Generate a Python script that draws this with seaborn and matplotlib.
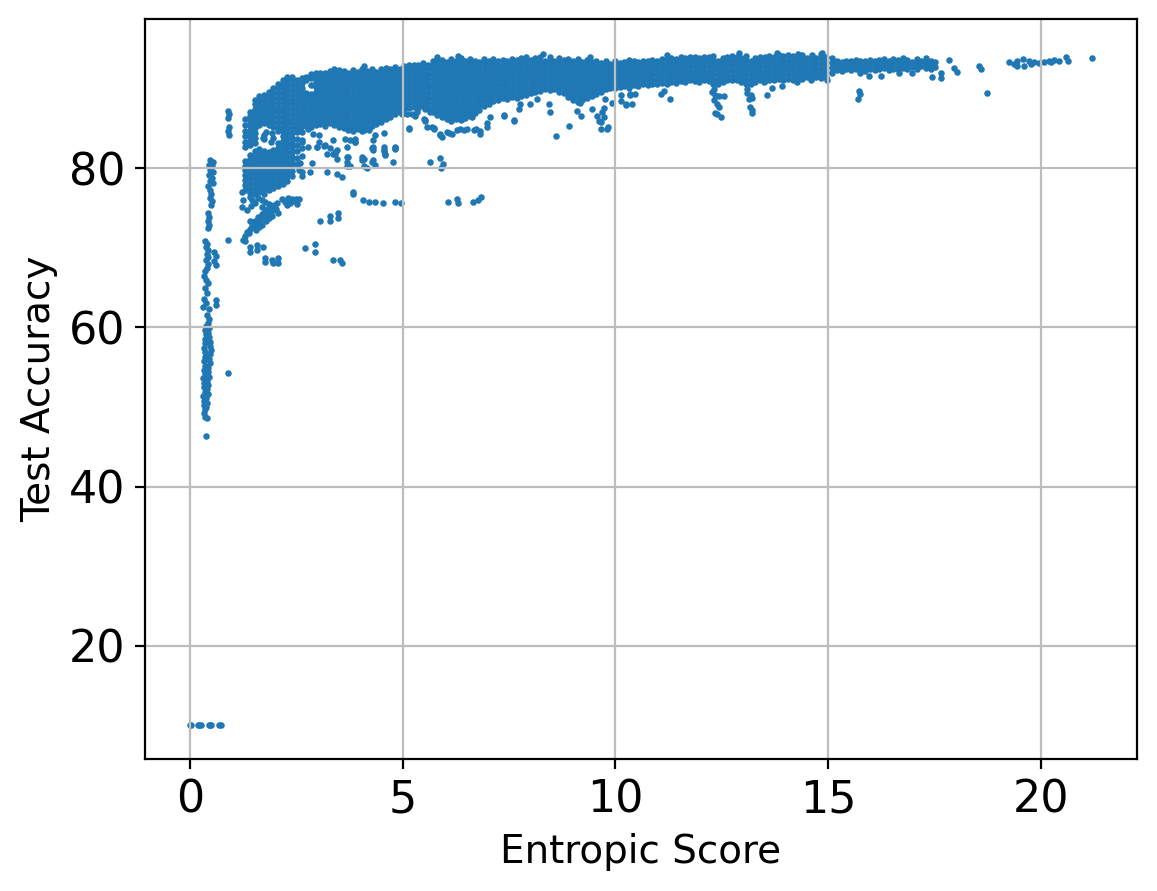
import numpy as np
import pandas as pd
import matplotlib
matplotlib.use("Agg")
import matplotlib.pyplot as plt
import seaborn as sns

# dense band of runs, read column by column: (entropic score, [test accuracies])
band_columns = [
    (1.30, [77.3, 77.9, 78.5, 79.1, 79.7, 80.3, 80.9, 82.6, 83.3, 84.0, 84.7, 85.4, 86.1]),
    (1.41, [76.9, 77.5, 78.1, 78.7, 79.3, 79.9, 80.5, 81.1, 81.7, 82.9, 83.5, 84.1, 84.7, 85.3, 85.9, 86.5, 87.1]),
    (1.52, [76.8, 77.4, 78.0, 78.6, 79.2, 79.8, 80.4, 81.0, 81.6, 82.2, 83.2, 83.8, 84.4, 85.0, 85.6, 86.2, 86.8, 87.4, 88.0, 88.6]),
    (1.63, [77.0, 77.6, 78.2, 78.8, 79.4, 80.0, 80.6, 81.2, 81.8, 82.4, 85.4, 86.0, 86.6, 87.2, 87.8, 88.4, 89.0]),
    (1.74, [76.8, 77.4, 78.0, 78.6, 79.2, 79.8, 80.4, 81.0, 81.6, 82.2, 83.6, 84.2, 85.6, 86.2, 86.8, 87.4, 88.0, 88.6, 89.2]),
    (1.85, [77.2, 77.8, 78.4, 79.0, 79.6, 80.2, 80.8, 81.4, 82.0, 85.4, 86.0, 86.6, 87.2, 87.8, 88.4, 89.0, 89.6]),
    (1.96, [77.5, 78.1, 78.7, 79.3, 79.9, 80.5, 81.1, 81.7, 82.3, 83.8, 85.2, 85.8, 86.4, 87.0, 87.6, 88.2, 88.8, 89.4, 90.0]),
    (2.07, [77.7, 78.3, 78.9, 79.5, 80.1, 80.7, 81.3, 81.9, 82.5, 83.1, 84.6, 85.2, 85.8, 86.4, 87.0, 87.6, 88.2, 88.8, 89.4, 90.0, 90.6]),
    (2.18, [78.0, 78.6, 79.2, 79.8, 80.4, 81.0, 81.6, 82.2, 82.8, 83.4, 84.0, 84.6, 85.2, 85.8, 86.4, 87.0, 87.6, 88.2, 88.8, 89.4, 90.0, 90.6, 91.1]),
    (2.29, [78.4, 79.0, 79.6, 80.2, 80.8, 81.4, 82.0, 82.6, 83.2, 83.8, 84.4, 85.0, 85.6, 86.2, 86.8, 87.4, 88.0, 88.6, 89.2, 89.8, 90.4, 91.0, 91.5]),
    (2.40, [79.0, 79.6, 80.2, 80.8, 81.4, 82.0, 82.6, 83.2, 83.8, 84.4, 85.0, 85.6, 86.2, 86.8, 87.4, 88.0, 88.6, 89.2, 89.8, 90.4, 91.0, 91.4]),
    (2.51, [80.5, 81.3, 82.1, 82.9, 83.7, 84.5, 85.1, 85.7, 86.3, 86.9, 87.5, 88.1, 88.7, 89.3, 89.9, 90.5, 91.1]),
    (2.62, [81.5, 82.5, 83.5, 84.5, 85.3, 85.9, 86.5, 87.1, 87.7, 88.3, 88.9, 89.5, 90.1, 90.7, 91.3]),
    (2.73, [85.3, 85.9, 86.5, 87.1, 87.7, 88.3, 88.9, 89.4, 91.0, 91.5]),
    (2.84, [85.1, 85.7, 86.3, 86.9, 87.5, 88.1, 88.7, 89.3, 90.4, 91.3, 91.8]),
    (2.95, [85.4, 86.0, 86.6, 87.2, 87.8, 88.4, 89.0, 89.6, 90.2, 90.8, 91.4, 91.9]),
    (3.06, [85.5, 86.1, 86.7, 87.3, 87.9, 88.5, 89.1, 89.7, 90.3, 90.9, 91.5, 92.0]),
    (3.17, [85.3, 85.9, 86.5, 87.1, 87.7, 88.3, 88.9, 89.5, 90.1, 90.7, 91.3, 91.9]),
    (3.28, [85.6, 86.2, 86.8, 87.4, 88.0, 88.6, 89.2, 89.8, 90.4, 91.0, 91.6, 92.2]),
    (3.39, [85.4, 86.0, 86.6, 87.2, 87.8, 88.4, 89.0, 89.6, 90.2, 90.8, 91.4, 92.0, 92.4]),
    (3.50, [85.2, 85.8, 86.4, 87.0, 87.6, 88.2, 88.8, 89.4, 90.0, 90.6, 91.2, 91.8, 92.3]),
    (3.61, [85.0, 85.6, 86.2, 86.8, 87.4, 88.0, 88.6, 89.2, 89.8, 90.4, 91.0, 91.6, 92.2]),
    (3.72, [84.8, 85.4, 86.0, 86.6, 87.2, 87.8, 88.4, 89.0, 89.6, 90.2, 90.8, 91.4, 92.0]),
    (3.83, [84.6, 85.2, 85.8, 86.4, 87.0, 87.6, 88.2, 88.8, 89.4, 90.0, 90.6, 91.2, 91.8, 92.3]),
    (3.94, [84.9, 85.5, 86.1, 86.7, 87.3, 87.9, 88.5, 89.1, 89.7, 90.3, 90.9, 91.5, 92.1]),
    (4.05, [84.7, 85.3, 85.9, 86.5, 87.1, 87.7, 88.3, 88.9, 89.5, 90.1, 90.7, 91.3, 91.9, 92.4]),
    (4.16, [85.0, 85.6, 86.2, 86.8, 87.4, 88.0, 88.6, 89.2, 89.8, 90.4, 91.0, 91.6, 92.2]),
    (4.27, [85.3, 85.9, 86.5, 87.1, 87.7, 88.3, 88.9, 89.5, 90.1, 90.7, 91.3, 91.9, 92.4]),
    (4.38, [85.5, 86.1, 86.7, 87.3, 87.9, 88.5, 89.1, 89.7, 90.3, 90.9, 91.5, 92.1]),
    (4.49, [85.8, 86.4, 87.0, 87.6, 88.2, 88.8, 89.4, 90.0, 90.6, 91.2, 91.8, 92.4]),
    (4.60, [86.1, 86.7, 87.3, 87.9, 88.5, 89.1, 89.7, 90.3, 90.9, 91.5, 92.1, 92.6]),
    (4.71, [86.4, 87.0, 87.6, 88.2, 88.8, 89.4, 90.0, 90.6, 91.2, 91.8, 92.4]),
    (4.82, [86.8, 87.4, 88.0, 88.6, 89.2, 89.8, 90.4, 91.0, 91.6, 92.2, 92.7]),
    (4.93, [87.1, 87.7, 88.3, 88.9, 89.5, 90.1, 90.7, 91.3, 91.9, 92.5]),
    (5.04, [87.4, 88.0, 88.6, 89.2, 89.8, 90.4, 91.0, 91.6, 92.2, 92.8]),
    (5.15, [87.6, 88.2, 88.8, 89.4, 90.0, 90.6, 91.2, 91.8, 92.4, 92.9]),
    (5.26, [87.7, 88.3, 88.9, 89.5, 90.1, 90.7, 91.3, 91.9, 92.5, 93.0]),
    (5.37, [87.5, 88.1, 88.7, 89.3, 89.9, 90.5, 91.1, 91.7, 92.3, 92.9]),
    (5.48, [87.8, 88.4, 89.0, 89.6, 90.2, 90.8, 91.4, 92.0, 92.6, 93.2]),
    (5.59, [87.6, 88.2, 88.8, 89.4, 90.0, 90.6, 91.2, 91.8, 92.4, 93.0]),
    (5.70, [87.0, 87.6, 88.2, 88.8, 89.4, 90.0, 90.6, 91.2, 91.8, 92.4, 93.0, 93.5]),
    (5.81, [86.7, 87.3, 87.9, 88.5, 89.1, 89.7, 90.3, 90.9, 91.5, 92.1, 92.7, 93.3]),
    (5.92, [86.4, 87.0, 87.6, 88.2, 88.8, 89.4, 90.0, 90.6, 91.2, 91.8, 92.4, 93.0, 93.6]),
    (6.03, [86.1, 86.7, 87.3, 87.9, 88.5, 89.1, 89.7, 90.3, 90.9, 91.5, 92.1, 92.7, 93.3]),
    (6.14, [85.9, 86.5, 87.1, 87.7, 88.3, 88.9, 89.5, 90.1, 90.7, 91.3, 91.9, 92.5, 93.1, 93.7]),
    (6.25, [86.2, 86.8, 87.4, 88.0, 88.6, 89.2, 89.8, 90.4, 91.0, 91.6, 92.2, 92.8, 93.4]),
    (6.36, [86.0, 86.6, 87.2, 87.8, 88.4, 89.0, 89.6, 90.2, 90.8, 91.4, 92.0, 92.6, 93.2, 93.8]),
    (6.47, [86.3, 86.9, 87.5, 88.1, 88.7, 89.3, 89.9, 90.5, 91.1, 91.7, 92.3, 92.9, 93.5]),
    (6.58, [86.6, 87.2, 87.8, 88.4, 89.0, 89.6, 90.2, 90.8, 91.4, 92.0, 92.6, 93.2, 93.7]),
    (6.69, [86.9, 87.5, 88.1, 88.7, 89.3, 89.9, 90.5, 91.1, 91.7, 92.3, 92.9, 93.5]),
    (6.80, [87.3, 87.9, 88.5, 89.1, 89.7, 90.3, 90.9, 91.5, 92.1, 92.7, 93.3]),
    (6.91, [87.8, 88.4, 89.0, 89.6, 90.2, 90.8, 91.4, 92.0, 92.6, 93.2, 93.7]),
    (7.02, [88.1, 88.7, 89.3, 89.9, 90.5, 91.1, 91.7, 92.3, 92.9, 93.5]),
    (7.13, [88.4, 89.0, 89.6, 90.2, 90.8, 91.4, 92.0, 92.6, 93.2, 93.7]),
    (7.24, [88.6, 89.2, 89.8, 90.4, 91.0, 91.6, 92.2, 92.8, 93.4]),
    (7.35, [88.8, 89.4, 90.0, 90.6, 91.2, 91.8, 92.4, 93.0, 93.6]),
    (7.46, [88.7, 89.3, 89.9, 90.5, 91.1, 91.7, 92.3, 92.9, 93.5]),
    (7.57, [88.9, 89.5, 90.1, 90.7, 91.3, 91.9, 92.5, 93.1, 93.7]),
    (7.68, [88.8, 89.4, 90.0, 90.6, 91.2, 91.8, 92.4, 93.0, 93.6]),
    (7.79, [89.0, 89.6, 90.2, 90.8, 91.4, 92.0, 92.6, 93.2, 93.8]),
    (7.90, [89.2, 89.8, 90.4, 91.0, 91.6, 92.2, 92.8, 93.4, 94.0]),
    (8.01, [89.4, 90.0, 90.6, 91.2, 91.8, 92.4, 93.0, 93.6]),
    (8.12, [89.6, 90.2, 90.8, 91.4, 92.0, 92.6, 93.2, 93.8]),
    (8.23, [89.7, 90.3, 90.9, 91.5, 92.1, 92.7, 93.3, 93.9]),
    (8.34, [89.9, 90.5, 91.1, 91.7, 92.3, 92.9, 93.5]),
    (8.45, [89.8, 90.4, 91.0, 91.6, 92.2, 92.8, 93.4, 94.0]),
    (8.56, [89.9, 90.5, 91.1, 91.7, 92.3, 92.9, 93.5]),
    (8.67, [89.6, 90.2, 90.8, 91.4, 92.0, 92.6, 93.2, 93.8]),
    (8.78, [89.4, 90.0, 90.6, 91.2, 91.8, 92.4, 93.0, 93.6]),
    (8.89, [88.9, 89.5, 90.1, 90.7, 91.3, 91.9, 92.5, 93.1, 93.7]),
    (9.00, [88.6, 89.2, 89.8, 90.4, 91.0, 91.6, 92.2, 92.8, 93.4]),
    (9.11, [88.3, 88.9, 89.5, 90.1, 90.7, 91.3, 91.9, 92.5, 93.1, 93.7]),
    (9.22, [88.5, 89.1, 89.7, 90.3, 90.9, 91.5, 92.1, 92.7, 93.3]),
    (9.33, [88.8, 89.4, 90.0, 90.6, 91.2, 91.8, 92.4, 93.0, 93.6]),
    (9.44, [89.1, 89.7, 90.3, 90.9, 91.5, 92.1, 92.7, 93.3]),
    (9.55, [89.3, 89.9, 90.5, 91.1, 91.7, 92.3, 92.9, 93.5]),
    (9.66, [89.6, 90.2, 90.8, 91.4, 92.0, 92.6, 93.2]),
    (9.77, [89.9, 90.5, 91.1, 91.7, 92.3, 92.9, 93.5]),
    (9.88, [90.1, 90.7, 91.3, 91.9, 92.5, 93.1]),
    (9.99, [90.0, 90.6, 91.2, 91.8, 92.4, 93.0, 93.5]),
    (10.10, [90.2, 90.8, 91.4, 92.0, 92.6, 93.2]),
    (10.21, [90.3, 90.9, 91.5, 92.1, 92.7, 93.3]),
    (10.32, [90.1, 90.7, 91.3, 91.9, 92.5, 93.1, 93.6]),
    (10.43, [90.4, 91.0, 91.6, 92.2, 92.8, 93.4]),
    (10.54, [90.3, 90.9, 91.5, 92.1, 92.7, 93.3]),
    (10.65, [90.5, 91.1, 91.7, 92.3, 92.9, 93.5]),
    (10.76, [90.4, 91.0, 91.6, 92.2, 92.8, 93.4]),
    (10.87, [90.6, 91.2, 91.8, 92.4, 93.0, 93.6]),
    (10.98, [90.5, 91.1, 91.7, 92.3, 92.9, 93.5]),
    (11.09, [90.7, 91.3, 91.9, 92.5, 93.1, 93.7]),
    (11.20, [90.6, 91.2, 91.8, 92.4, 93.0, 93.6]),
    (11.31, [90.8, 91.4, 92.0, 92.6, 93.2, 93.8]),
    (11.42, [90.7, 91.3, 91.9, 92.5, 93.1, 93.7]),
    (11.53, [90.9, 91.5, 92.1, 92.7, 93.3, 93.9]),
    (11.64, [90.8, 91.4, 92.0, 92.6, 93.2, 93.8]),
    (11.75, [91.0, 91.6, 92.2, 92.8, 93.4, 94.0]),
    (11.86, [90.9, 91.5, 92.1, 92.7, 93.3, 93.9]),
    (11.97, [90.8, 91.4, 92.0, 92.6, 93.2, 93.8]),
    (12.08, [91.0, 91.6, 92.2, 92.8, 93.4, 94.0]),
    (12.19, [90.9, 91.5, 92.1, 92.7, 93.3, 93.9]),
    (12.30, [90.6, 91.2, 91.8, 92.4, 93.0, 93.6, 94.1]),
    (12.41, [90.5, 91.1, 91.7, 92.3, 92.9, 93.5]),
    (12.52, [90.8, 91.4, 92.0, 92.6, 93.2, 93.8]),
    (12.63, [91.0, 91.6, 92.2, 92.8, 93.4, 94.0]),
    (12.74, [91.1, 91.7, 92.3, 92.9, 93.5, 94.1]),
    (12.85, [91.0, 91.6, 92.2, 92.8, 93.4, 94.0]),
    (12.96, [90.8, 91.4, 92.0, 92.6, 93.2, 93.8]),
    (13.07, [90.6, 91.2, 91.8, 92.4, 93.0, 93.6, 94.1]),
    (13.18, [90.5, 91.1, 91.7, 92.3, 92.9, 93.5]),
    (13.29, [90.8, 91.4, 92.0, 92.6, 93.2, 93.8]),
    (13.40, [91.0, 91.6, 92.2, 92.8, 93.4, 94.0]),
    (13.51, [90.9, 91.5, 92.1, 92.7, 93.3, 93.9]),
    (13.62, [91.1, 91.7, 92.3, 92.9, 93.5, 94.1]),
    (13.73, [91.0, 91.6, 92.2, 92.8, 93.4, 94.0]),
    (13.84, [91.2, 91.8, 92.4, 93.0, 93.6, 94.2]),
    (13.95, [91.1, 91.7, 92.3, 92.9, 93.5, 94.1]),
    (14.06, [91.2, 91.8, 92.4, 93.0, 93.6, 94.2]),
    (14.17, [91.1, 91.7, 92.3, 92.9, 93.5, 94.1]),
    (14.28, [91.3, 91.9, 92.5, 93.1, 93.7, 94.3]),
    (14.39, [91.2, 91.8, 92.4, 93.0, 93.6, 94.2]),
    (14.50, [91.4, 92.0, 92.6, 93.2, 93.8]),
    (14.61, [91.3, 91.9, 92.5, 93.1, 93.7, 94.2]),
    (14.72, [91.4, 92.0, 92.6, 93.2, 93.8]),
    (14.83, [91.3, 91.9, 92.5, 93.1, 93.7, 94.3]),
    (14.94, [91.5, 92.1, 92.7, 93.3, 93.9]),
    (15.10, [92.0, 92.6, 93.2, 93.8]),
    (15.21, [92.3, 92.9, 93.4]),
    (15.32, [92.2, 92.8, 93.3]),
    (15.43, [92.4, 93.0, 93.5]),
    (15.54, [92.3, 92.9, 93.4]),
    (15.65, [92.5, 93.1, 93.6]),
    (15.76, [92.4, 93.0, 93.5]),
    (15.87, [92.2, 92.8, 93.4]),
    (15.98, [92.5, 93.1, 93.6]),
    (16.09, [92.3, 92.9, 93.5]),
    (16.20, [92.4, 93.0, 93.6]),
    (16.31, [92.6, 93.2, 93.7]),
    (16.42, [92.3, 92.9, 93.5]),
    (16.53, [92.5, 93.1, 93.7]),
    (16.64, [92.4, 93.0, 93.6]),
    (16.75, [92.6, 93.2, 93.8]),
    (16.86, [92.4, 93.0, 93.6]),
    (16.97, [92.7, 93.3]),
    (17.08, [92.5, 93.1, 93.7]),
    (17.19, [92.8, 93.4]),
    (17.30, [92.6, 93.2, 93.8]),
    (17.41, [92.4, 93.0, 93.5]),
    (17.52, [92.7, 93.3]),
]

# near-vertical spike of low-entropy runs
spike_points = [
    (0.47, 81.0), (0.53, 80.8), (0.45, 80.4), (0.52, 80.2), (0.48, 79.7), (0.55, 79.5),
    (0.45, 79.1), (0.51, 78.8), (0.47, 78.4), (0.54, 78.1), (0.42, 77.8), (0.46, 77.3),
    (0.50, 76.8), (0.47, 76.3), (0.52, 75.9), (0.50, 75.3), (0.43, 74.4), (0.45, 73.9),
    (0.43, 73.4), (0.44, 72.9), (0.42, 72.5), (0.36, 70.9), (0.40, 70.5), (0.37, 70.1),
    (0.42, 69.7), (0.39, 69.2), (0.43, 68.8), (0.37, 68.4), (0.41, 68.0), (0.39, 67.5),
    (0.36, 67.1), (0.57, 69.4), (0.60, 68.9), (0.57, 68.3), (0.60, 67.8), (0.32, 66.5),
    (0.37, 66.0), (0.42, 65.6), (0.35, 64.9), (0.40, 64.3), (0.33, 63.6), (0.38, 63.1),
    (0.30, 62.6), (0.44, 62.3), (0.40, 61.6), (0.45, 61.1), (0.41, 60.6), (0.60, 63.4),
    (0.62, 62.8),
    (0.38, 60.2), (0.35, 59.6), (0.37, 59.1), (0.34, 58.5), (0.36, 58.0), (0.33, 57.4),
    (0.36, 56.9), (0.34, 56.3), (0.33, 55.8), (0.35, 55.2), (0.32, 54.7), (0.34, 54.1),
    (0.31, 53.6), (0.33, 53.0), (0.32, 52.5), (0.34, 51.9), (0.31, 51.4), (0.33, 50.8),
    (0.32, 50.3), (0.34, 49.7), (0.33, 49.2),
    (0.44, 59.9), (0.42, 59.3), (0.45, 58.8), (0.47, 58.2), (0.46, 57.7), (0.49, 57.1),
    (0.47, 56.6), (0.44, 56.0), (0.46, 55.5), (0.43, 54.9), (0.41, 54.4), (0.44, 53.8),
    (0.40, 53.3), (0.42, 52.7), (0.39, 52.2), (0.41, 51.6), (0.38, 51.1), (0.40, 50.5),
    (0.38, 50.0), (0.35, 48.7), (0.40, 48.6), (0.37, 46.4),
    (0.90, 54.3), (0.90, 71.0), (0.90, 86.3), (0.92, 86.8), (0.90, 87.2),
    (0.91, 84.2), (0.90, 84.7), (0.92, 85.1),
]

# runs stuck at chance level
floor_x = [0.00, 0.02, 0.19, 0.22, 0.25, 0.44, 0.47, 0.50, 0.69, 0.72]
floor_y = [10.0, 10.0, 10.0, 10.0, 10.0, 10.0, 10.0, 10.0, 10.0, 10.0]

# lower arm and the small groups below the main branch
arm_points = [
    (1.25, 71.0), (1.30, 71.5), (1.33, 72.0), (1.38, 71.8), (1.42, 72.4), (1.45, 72.9),
    (1.50, 72.6), (1.53, 73.3), (1.58, 73.0), (1.60, 73.8), (1.65, 73.4), (1.68, 74.2),
    (1.72, 73.8), (1.75, 74.6), (1.80, 74.1), (1.82, 74.9), (1.87, 74.4), (1.90, 75.2),
    (1.95, 74.7), (1.98, 75.4), (2.02, 74.9), (2.05, 75.6), (1.70, 72.9), (1.78, 73.3),
    (1.86, 73.7), (1.93, 74.0), (1.55, 72.2), (1.62, 72.6), (2.07, 74.3), (1.85, 75.5),
    (1.76, 75.8), (1.70, 76.0), (1.60, 76.3), (1.52, 75.6), (1.44, 75.2), (1.35, 74.7),
    (1.40, 73.4), (1.22, 75.1), (1.41, 76.4), (1.46, 76.0), (1.22, 77.0), (1.24, 76.0),
    (1.69, 75.1), (1.88, 75.0), (1.30, 70.8),
    (1.41, 70.1), (1.41, 69.5), (1.58, 70.3), (1.58, 69.7), (1.72, 70.1), (1.76, 68.7),
    (1.76, 68.2), (1.93, 68.5), (1.95, 68.1), (2.07, 68.7), (2.07, 68.1),
    (2.17, 76.1), (2.22, 75.7), (2.30, 76.2), (2.35, 75.6), (2.42, 75.9), (2.48, 76.1),
    (2.52, 75.5), (2.27, 75.3), (2.39, 76.1), (2.55, 76.1),
    (2.71, 69.9), (2.94, 70.5), (2.94, 69.5), (3.06, 73.3), (3.29, 74.0), (3.29, 73.3),
    (3.48, 74.4), (3.48, 73.7), (3.37, 68.5), (3.53, 68.4), (3.57, 68.1),
    (3.84, 77.0), (3.84, 76.8), (4.07, 76.0), (4.20, 75.8), (4.35, 75.7), (4.54, 75.6),
    (4.82, 75.8), (4.96, 75.6), (6.07, 75.7), (6.28, 76.1), (6.31, 75.6), (6.64, 75.7),
    (6.78, 76.0), (6.85, 76.4), (5.65, 80.8), (5.88, 81.3), (5.95, 80.5), (5.90, 80.0),
]

# loose points around the edges of the band
loose_points = [
    (2.63, 83.3), (2.78, 82.7), (2.98, 82.7), (3.02, 83.3), (3.18, 82.9), (3.29, 82.5),
    (3.37, 81.8), (3.45, 82.3), (3.69, 82.7), (3.72, 81.4), (3.88, 83.3), (4.04, 81.0),
    (4.08, 80.2), (4.16, 80.0), (4.31, 82.7), (4.31, 81.0), (4.35, 80.4), (4.55, 82.3),
    (4.59, 81.6), (4.82, 82.7), (3.69, 80.8), (3.76, 80.2), (3.45, 79.3), (3.57, 78.9),
    (3.22, 79.5), (2.86, 80.6), (2.59, 80.6), (2.63, 79.5), (2.55, 79.7), (2.63, 79.0),
    (2.82, 79.5), (1.72, 83.8), (1.78, 84.5), (1.90, 83.3), (1.93, 84.4),
    (3.37, 83.5), (3.41, 81.8), (3.69, 81.4), (3.76, 83.5), (3.88, 83.3), (4.20, 84.8),
    (4.31, 83.5), (4.31, 82.3), (4.55, 84.4), (4.55, 82.7), (4.59, 81.8), (4.82, 82.5),
    (5.14, 85.0), (5.33, 87.1), (5.53, 86.0), (5.65, 87.1), (5.73, 85.0), (5.92, 83.9),
    (6.08, 84.4), (6.27, 84.8), (6.43, 84.8), (6.67, 84.8), (6.82, 84.6), (6.98, 85.6),
    (7.06, 88.5), (7.37, 86.7), (7.61, 86.0), (7.76, 88.1), (7.80, 89.4), (4.00, 86.5),
    (4.08, 84.8), (4.27, 82.5), (4.04, 81.4), (3.69, 80.2),
    (2.59, 84.9), (2.78, 84.9), (2.90, 84.3), (3.02, 84.1), (2.98, 82.6), (3.14, 82.8),
    (3.22, 81.8), (3.41, 82.0), (3.45, 81.1), (3.65, 83.6), (3.73, 84.9), (3.88, 83.6),
    (4.08, 81.1), (4.27, 80.7), (4.35, 84.1), (4.55, 82.2), (4.82, 82.4), (4.78, 80.7),
    (5.14, 84.9), (4.98, 86.8), (5.22, 86.8), (5.49, 86.1), (5.69, 85.1), (5.88, 84.1),
    (5.10, 87.8), (5.10, 86.8), (5.29, 86.6), (5.53, 87.4), (5.53, 85.9), (5.57, 85.1),
    (5.73, 84.9), (5.77, 87.2), (5.88, 84.3), (6.04, 84.5), (6.16, 84.3), (6.12, 86.6),
    (6.35, 84.9), (6.39, 86.1), (6.51, 84.9), (6.63, 86.4), (6.71, 84.9), (6.82, 84.3),
    (6.98, 85.1), (7.06, 86.4), (7.37, 86.6), (7.61, 85.9), (7.73, 87.4), (8.00, 88.0),
    (8.16, 88.7), (8.43, 88.0), (8.47, 87.0), (8.70, 90.3), (8.90, 85.3), (9.10, 87.2),
    (9.17, 88.2), (9.20, 86.6), (8.60, 84.0), (9.45, 87.4), (9.57, 86.6), (9.61, 85.9),
    (9.65, 84.9), (9.80, 84.9), (9.73, 87.6), (9.92, 88.2), (10.12, 88.4), (10.24, 88.0),
    (10.39, 88.0), (10.35, 89.3), (10.47, 89.3), (11.06, 89.3), (11.14, 89.7), (11.29, 88.7),
    (9.69, 89.8), (9.76, 88.7), (9.69, 87.1), (9.74, 86.4), (9.65, 85.8), (9.82, 85.1),
    (10.12, 89.2), (10.24, 87.9), (10.34, 89.2),
    (12.27, 89.6), (12.35, 89.2), (12.43, 89.0), (12.31, 88.5), (12.39, 88.1), (12.43, 87.7),
    (12.35, 86.9), (12.47, 86.4), (12.55, 89.0), (12.39, 86.8), (12.31, 89.9),
    (13.10, 89.4), (13.14, 88.7), (13.18, 89.2), (13.22, 88.8), (13.16, 87.7), (13.20, 87.3),
    (13.22, 86.9), (13.57, 89.2), (13.69, 90.0), (13.10, 89.9),
    (13.49, 90.8), (13.92, 90.3), (14.27, 90.8), (14.59, 91.0), (14.98, 91.0),
    (15.21, 93.3), (15.27, 92.4), (15.41, 92.6), (15.72, 89.7), (15.75, 89.3), (15.70, 88.7),
    (15.75, 92.0), (15.96, 91.6), (16.24, 91.6), (16.67, 92.0), (16.98, 92.0), (17.45, 91.4),
    (17.65, 91.3), (17.65, 92.0), (17.84, 93.6), (17.96, 92.6), (18.02, 92.1), (18.55, 92.8),
    (18.59, 92.4), (18.73, 89.4), (19.25, 93.3), (19.37, 93.1), (19.45, 93.5), (19.45, 92.8),
    (19.57, 93.7), (19.61, 92.8), (19.73, 93.5), (19.76, 93.1), (19.84, 93.3), (19.96, 93.2),
    (20.08, 93.3), (20.20, 93.5), (20.24, 93.3), (20.31, 93.6), (20.43, 93.5), (20.59, 94.0),
    (20.63, 93.5), (21.20, 93.8),
    (4.10, 92.8), (5.80, 93.9), (6.30, 94.1), (8.30, 94.3), (9.40, 93.9), (11.20, 94.2),
    (12.90, 94.4), (13.80, 94.5), (14.86, 94.45),
]

xs, ys = [], []
for x, col in band_columns:
    xs += [x] * len(col)
    ys += col
for group in (spike_points, arm_points, loose_points):
    xs += [p[0] for p in group]
    ys += [p[1] for p in group]
xs += floor_x
ys += floor_y

df = pd.DataFrame({"entropic_score": xs, "test_accuracy": ys})

fig = plt.figure(figsize=(5.785, 4.455), dpi=200)
ax = fig.add_axes([0.1253, 0.1481, 0.8574, 0.8306])
sns.scatterplot(data=df, x="entropic_score", y="test_accuracy", s=5.5,
                linewidth=0, color="#1f77b4", ax=ax)
ax.grid(True, color="#bdbdbd")
ax.set_xlabel("Entropic Score", fontsize=14)
ax.set_ylabel("Test Accuracy", fontsize=14)
ax.tick_params(labelsize=16)
fig.savefig("out.png", dpi=200)
